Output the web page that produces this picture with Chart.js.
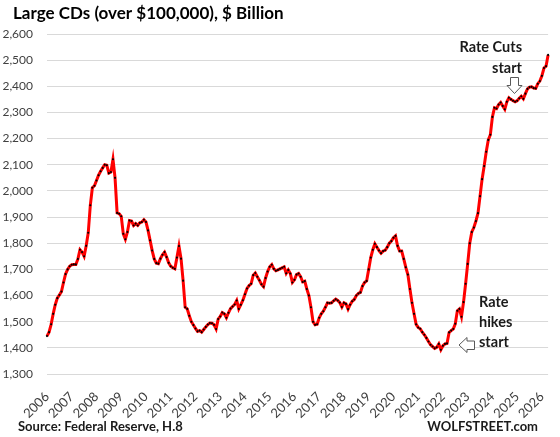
<!DOCTYPE html>
<html>
<head>
<meta charset="utf-8">
<script src="https://cdn.jsdelivr.net/npm/chart.js@4.4.1/dist/chart.umd.min.js"></script>
<style>
  html, body { margin: 0; padding: 0; background: #fff; }
  canvas { display: block; }
</style>
</head>
<body>
<canvas id="cds" width="560" height="437"></canvas>
<script>
// Large CDs, monthly, $ billion
var years = [2006,2007,2008,2009,2010,2011,2012,2013,2014,2015,2016,2017,2018,2019,2020,2021,2022,2023,2024,2025,2026];
var cd2006 = [1445,1460,1490,1530,1565,1590,1602,1615,1650,1682,1700,1712];
var cd2007 = [1718,1719,1719,1740,1775,1766,1750,1790,1840,1945,2012,2020];
var cd2008 = [2040,2060,2075,2088,2100,2098,2068,2072,2121,2050,1916,1913];
var cd2009 = [1903,1836,1815,1843,1887,1885,1868,1875,1868,1878,1881,1890];
var cd2010 = [1881,1849,1811,1772,1740,1724,1722,1741,1756,1766,1747,1725];
var cd2011 = [1712,1706,1702,1745,1789,1741,1657,1555,1549,1523,1500,1487];
var cd2012 = [1474,1463,1466,1460,1470,1480,1489,1495,1494,1488,1472,1510];
var cd2013 = [1520,1535,1530,1515,1534,1550,1558,1566,1581,1549,1565,1582];
var cd2014 = [1605,1627,1638,1645,1678,1686,1672,1658,1643,1634,1667,1692];
var cd2015 = [1710,1718,1702,1695,1698,1702,1706,1710,1685,1698,1684,1650];
var cd2016 = [1660,1680,1684,1672,1652,1655,1625,1600,1555,1500,1488,1490];
var cd2017 = [1515,1530,1540,1555,1572,1571,1572,1580,1586,1581,1573,1556];
var cd2018 = [1572,1568,1548,1565,1578,1585,1600,1608,1612,1636,1650,1656];
var cd2019 = [1700,1745,1775,1798,1785,1772,1762,1770,1773,1785,1800,1808];
var cd2020 = [1821,1828,1790,1770,1770,1740,1708,1680,1625,1572,1530,1490];
var cd2021 = [1478,1473,1460,1450,1438,1424,1412,1405,1398,1402,1415,1393];
var cd2022 = [1408,1415,1417,1459,1466,1472,1492,1542,1549,1519,1575,1645];
var cd2023 = [1721,1800,1843,1860,1885,1915,1980,2045,2095,2150,2195,2215];
var cd2024 = [2283,2318,2315,2330,2338,2325,2312,2341,2356,2350,2345,2341];
var cd2025 = [2345,2354,2362,2352,2372,2390,2397,2398,2393,2392,2410,2420];
var cd2026 = [2440,2470,2477,2520];

var byYear = [cd2006,cd2007,cd2008,cd2009,cd2010,cd2011,cd2012,cd2013,cd2014,cd2015,cd2016,
              cd2017,cd2018,cd2019,cd2020,cd2021,cd2022,cd2023,cd2024,cd2025,cd2026];

var labels = [];
var values = [];
years.forEach(function(y, i) {
  byYear[i].forEach(function(v, m) {
    labels.push(y + "-" + (m < 9 ? "0" : "") + (m + 1));
    values.push(v);
  });
});

var FONT = "Lato, 'Open Sans', sans-serif";

// outline arrow helper
function outlineArrow(ctx, pts) {
  ctx.beginPath();
  ctx.moveTo(pts[0][0], pts[0][1]);
  for (var i = 1; i < pts.length; i++) ctx.lineTo(pts[i][0], pts[i][1]);
  ctx.closePath();
  ctx.fillStyle = "#fff";
  ctx.fill();
  ctx.lineWidth = 1;
  ctx.strokeStyle = "#595959";
  ctx.stroke();
}

var notes = {
  id: "notes",
  afterDraw: function(chart) {
    var ctx = chart.ctx;
    ctx.save();
    ctx.fillStyle = "#000";
    ctx.textBaseline = "alphabetic";

    ctx.font = "bold 17px " + FONT;
    ctx.textAlign = "left";
    ctx.fillText("Large CDs (over $100,000), $ Billion", 13, 19);

    ctx.font = "bold 14.5px " + FONT;
    ctx.fillStyle = "#1a1a1a";
    ctx.textAlign = "right";
    ctx.fillText("Rate Cuts", 522, 52);
    ctx.fillText("start", 522, 73);

    ctx.textAlign = "left";
    ctx.fillText("Rate", 479, 306.5);
    ctx.fillText("hikes", 479, 326.8);
    ctx.fillText("start", 479, 347);

    ctx.font = "bold 13px " + FONT;
    ctx.fillText("Source: Federal Reserve, H.8", 18, 431);
    ctx.textAlign = "right";
    ctx.fillText("WOLFSTREET.com", 538, 431);

    // down arrow under "Rate Cuts start"
    outlineArrow(ctx, [[510.5,77.5],[518.5,77.5],[518.5,85.5],[522,85.5],[514.5,93.5],[507,85.5],[510.5,85.5]]);
    // left arrow next to "Rate hikes start"
    outlineArrow(ctx, [[459,345],[467,337.5],[467,341],[474.5,341],[474.5,349.5],[467,349.5],[467,352.5]]);
    ctx.restore();
  }
};

new Chart("cds", {
  type: "line",
  data: {
    labels: labels,
    datasets: [{
      data: values,
      borderColor: "#ff0000",
      borderWidth: 3,
      pointRadius: 1.05,
      pointBorderWidth: 0,
      pointBackgroundColor: "#000",
      tension: 0,
      fill: false
    }]
  },
  options: {
    responsive: false,
    animation: false,
    layout: { padding: { top: 34, right: 5, left: 0, bottom: 0 } },
    plugins: {
      legend: { display: false },
      tooltip: { enabled: false }
    },
    scales: {
      x: {
        grid: { display: false },
        border: { display: false },
        afterFit: function(scale) { scale.height = 63; },
        ticks: {
          autoSkip: false,
          minRotation: 45,
          maxRotation: 45,
          padding: 7,
          color: "#404040",
          font: { family: FONT, size: 13 },
          callback: function(value) {
            var lab = this.getLabelForValue(value);
            return lab.slice(5) === "01" ? lab.slice(0, 4) : null;
          }
        }
      },
      y: {
        min: 1300,
        max: 2600,
        grid: { color: "#d9d9d9", lineWidth: 1, drawTicks: false },
        border: { display: false },
        afterFit: function(scale) { scale.width = 47; },
        ticks: {
          stepSize: 100,
          padding: 14,
          color: "#404040",
          font: { family: FONT, size: 12 },
          callback: function(v) { return v.toLocaleString("en-US"); }
        }
      }
    }
  },
  plugins: [notes]
});
</script>
</body>
</html>
